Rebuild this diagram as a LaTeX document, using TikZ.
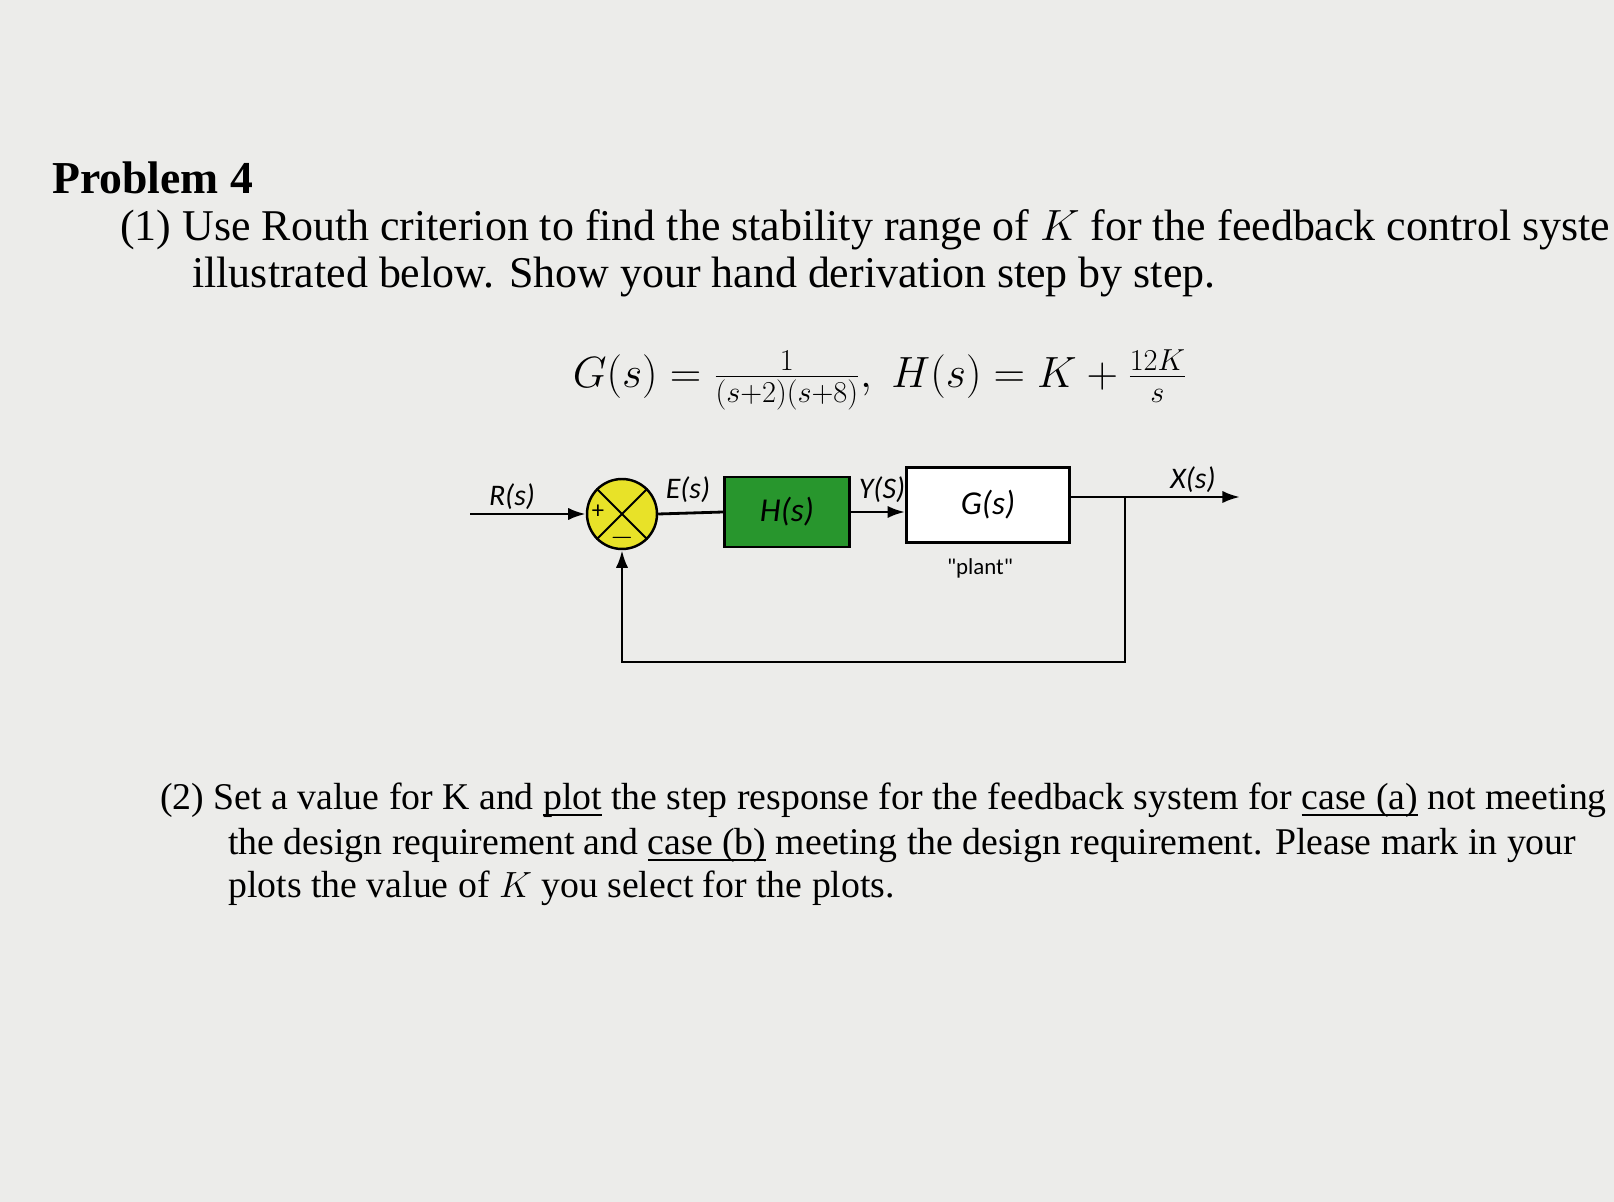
\documentclass[tikz,border=0pt]{standalone}
\usepackage{fontspec}
\setmainfont{Liberation Serif}
\newfontfamily\diagfont{Carlito}
\usetikzlibrary{arrows.meta}
\newcommand\myul[1]{\setbox0\hbox{#1}\rlap{\rule[-4pt]{\wd0}{1pt}}\box0\relax}
\definecolor{bg}{RGB}{236,236,234}
\definecolor{hgreen}{RGB}{40,150,45}
\definecolor{sumy}{RGB}{232,226,40}
\tikzset{
 body/.style={anchor=west,font=\fontsize{25}{30}\selectfont,inner sep=0},
 body2/.style={anchor=west,font=\fontsize{21.5}{26}\selectfont,inner sep=0},
 lab/.style={font=\diagfont\fontsize{17}{20}\selectfont\itshape,inner sep=0},
 sig/.style={line width=1.6pt},
 arr/.style={sig,-{Latex[length=10pt,width=7pt]}},
 blk/.style={draw,line width=1.6pt,minimum height=1.4cm,font=\diagfont\fontsize{19}{22}\selectfont}
}
\begin{document}
\begin{tikzpicture}[x=0.02cm,y=-0.02cm]
\useasboundingbox[fill=bg] (0,0) rectangle (1614,1202);
\node[body,font=\bfseries\fontsize{26}{30}\selectfont] (title) at (52,178) {Problem 4};
\node[body] (l1) at (120,230) {(1) Use Routh criterion to find the stability range of $K$ for the feedback control syste};
\node[body] (l2) at (192,277) {illustrated below. Show your hand derivation step by step.};
\node[inner sep=0,font=\fontsize{25}{30}\selectfont] (eq) at (880,380) {$G(s)=\frac{1}{(s+2)(s+8)},\;H(s)=K+\frac{12K}{s}$};
% diagram
\node[draw,circle,fill=sumy,line width=1.4pt,minimum size=1.4cm,inner sep=0] (sum) at (622,514) {};
\draw[line width=1.2pt] (sum.north west)--(sum.south east) (sum.north east)--(sum.south west);
\node[font=\diagfont\fontsize{14}{16}\selectfont] (plus) at (598,512) {+};
\node[font=\diagfont\fontsize{16}{16}\selectfont] (minus) at (622,538) {$-$};
\node[blk,fill=hgreen,minimum width=2.5cm] (H) at (787,512) {\itshape H(s)};
\node[blk,fill=white,minimum width=3.26cm,minimum height=1.5cm] (G) at (988,505) {\itshape G(s)};
\coordinate (rin) at (470,514);
\coordinate (xout) at (1240,497);
\coordinate (br) at (1125,497);
\coordinate (bb) at (1125,662);
\coordinate (bl) at (622,662);
\draw[arr] (rin) -- (sum.west);
\draw[sig] (sum.east) -- (H.west);
\draw[arr] (H.east) -- (G.west |- H.east);
\draw[arr] (G.east |- xout) -- (xout);
\draw[arr] (br) -- (bb) -- (bl) -- (sum.south);
\node[lab] (R) at (512,497) {R(s)};
\node[lab] (E) at (688,490) {E(s)};
\node[lab] (Y) at (882,490) {Y(S)};
\node[lab] (X) at (1193,480) {X(s)};
\node[font=\diagfont\fontsize{13}{15}\selectfont] (plant) at (980,568) {"plant"};
% part 2
\node[body2] (m1) at (160,800) {(2) Set a value for K and \myul{plot} the step response for the feedback system for \myul{case (a)} not meeting};
\node[body2] (m2) at (228,845) {the design requirement and \myul{case (b)} meeting the design requirement. Please mark in your};
\node[body2] (m3) at (228,888) {plots the value of $K$ you select for the plots.};
\end{tikzpicture}
\end{document}
